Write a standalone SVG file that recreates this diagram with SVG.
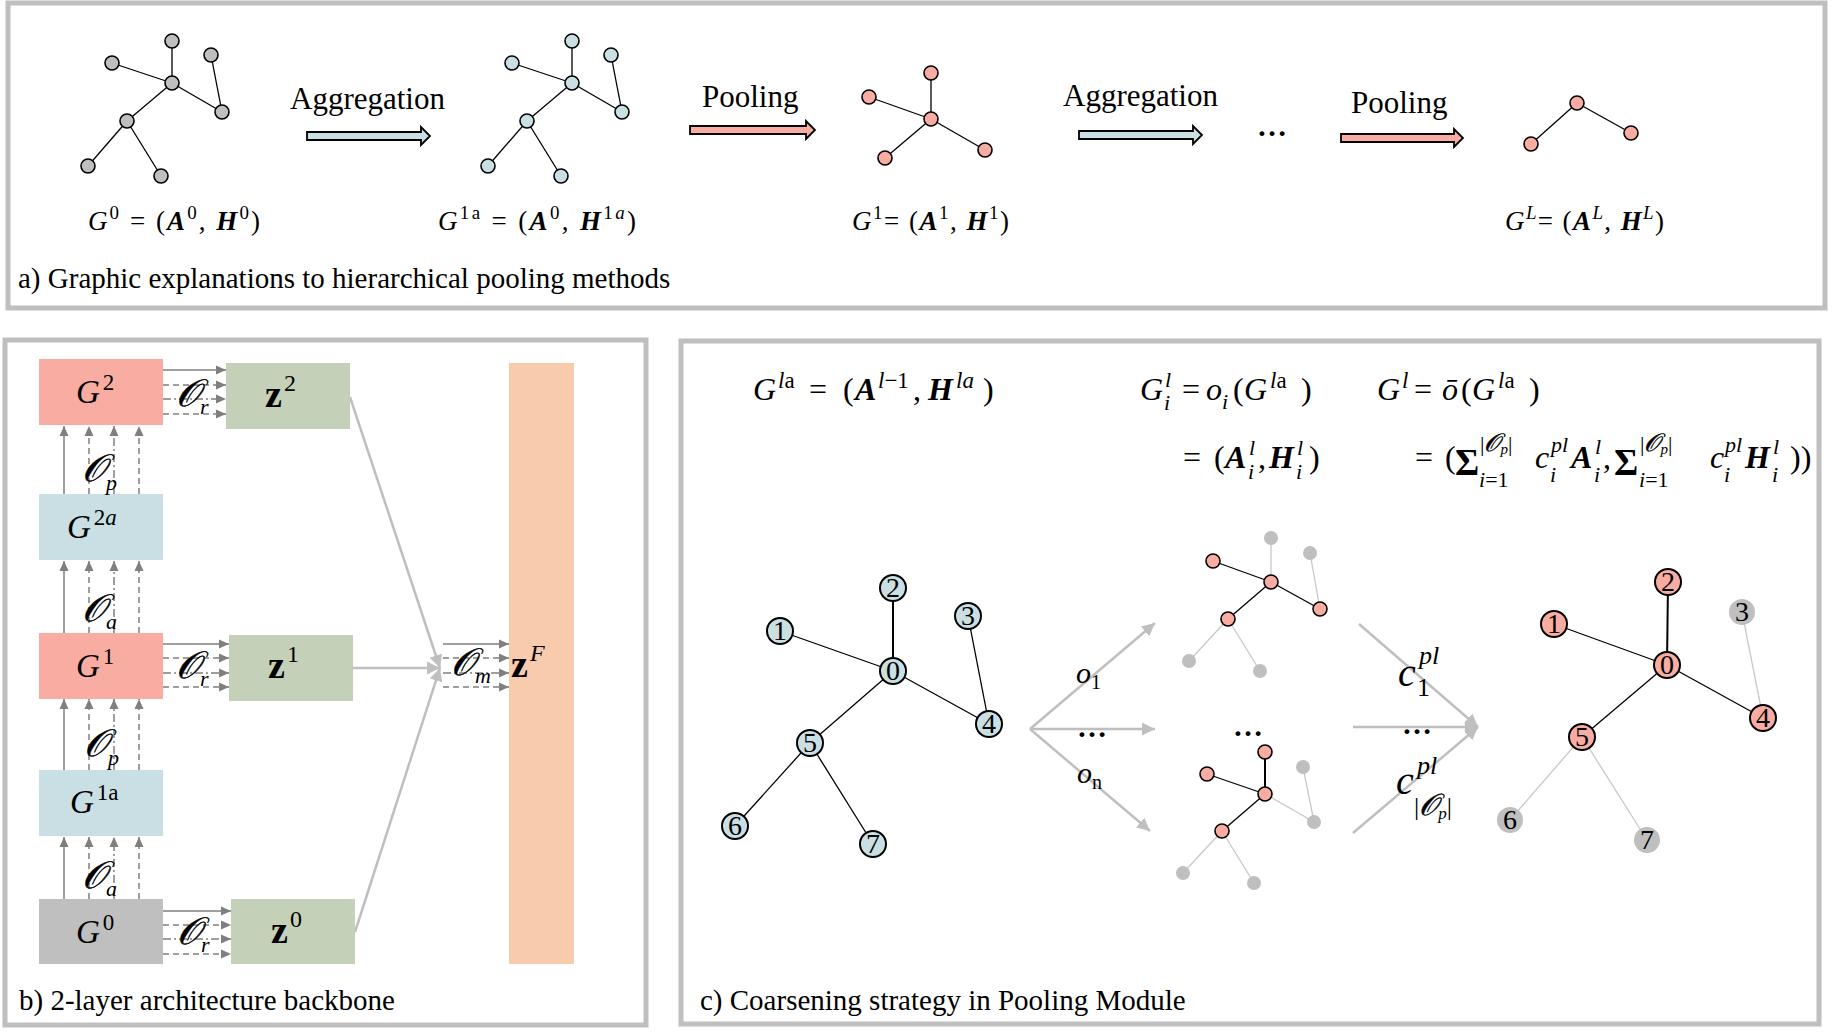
<svg xmlns="http://www.w3.org/2000/svg" width="1846" height="1036" viewBox="0 0 1846 1036">
<defs>
<marker id="ah" viewBox="0 0 10 10" refX="10" refY="5" markerWidth="10" markerHeight="10" markerUnits="userSpaceOnUse" orient="auto"><path d="M0,0.5 L10,5 L0,9.5 z" fill="#7f7f7f"/></marker>
<marker id="ag" viewBox="0 0 12 12" refX="12" refY="6" markerWidth="13" markerHeight="13" markerUnits="userSpaceOnUse" orient="auto"><path d="M0,0 L12,6 L0,12 z" fill="#bfbfbf"/></marker>
<style>
.pb{fill:none;stroke:#bfbfbf;stroke-width:5}
.t{font-family:"Liberation Serif",serif}
.m{font-family:"Liberation Serif",serif;font-style:italic}
.bi{font-weight:bold;font-style:italic}
.b{font-weight:bold;font-style:normal}
.up{font-style:normal}
.so{stroke:#000;stroke-width:0.5}
.e{stroke:#000;stroke-width:1.3}
.e2{stroke:#000;stroke-width:2}
.eg{stroke:#c8c8c8;stroke-width:1.3}
.ng{fill:#bfbfbf;stroke:#000;stroke-width:1.6}
.nb{fill:#c9dfe3;stroke:#000;stroke-width:1.6}
.np{fill:#f8aca2;stroke:#000;stroke-width:1.6}
.nx{fill:#bfbfbf;stroke:none}
.nbb{fill:#c9dfe3;stroke:#000;stroke-width:2}
.npb{fill:#f8aca2;stroke:#000;stroke-width:2}
.num{font-family:"Liberation Serif",serif;font-size:28px;text-anchor:middle}
.ar{stroke:#7f7f7f;stroke-width:1.5;marker-end:url(#ah)}
.da{stroke-dasharray:6 4}
.dd{stroke-dasharray:8 3 2 3}
.cg{stroke:#bfbfbf;stroke-width:2.5;fill:none;marker-end:url(#ag)}
.blk{stroke:#000;stroke-width:1.8}
.lab{font-family:"Liberation Serif",serif;font-size:31px}
.cap{font-family:"Liberation Serif",serif;font-size:29px}
.dots{font-family:"Liberation Serif",serif;font-size:30px;font-weight:bold;text-anchor:middle}
</style>
</defs>

<!-- panels -->
<g id="panel-a"><rect class="pb" x="8" y="3" width="1817" height="305"/></g>
<g id="panel-b"><rect class="pb" x="5" y="340" width="641" height="685"/></g>
<g id="panel-c"><rect class="pb" x="681" y="341" width="1138" height="683"/></g>

<!-- ===== Panel a ===== -->
<g id="graph-G0">
<g class="e"><line x1="172" y1="41" x2="172" y2="83"/><line x1="112" y1="63" x2="172" y2="83"/><line x1="172" y1="83" x2="222" y2="112"/><line x1="211" y1="55" x2="222" y2="112"/><line x1="172" y1="83" x2="127" y2="121"/><line x1="127" y1="121" x2="88" y2="166"/><line x1="127" y1="121" x2="161" y2="176"/></g>
<g id="g0-n0"><circle class="ng" cx="172" cy="41" r="7"/></g>
<g id="g0-n1"><circle class="ng" cx="112" cy="63" r="7"/></g>
<g id="g0-n2"><circle class="ng" cx="211" cy="55" r="7"/></g>
<g id="g0-n3"><circle class="ng" cx="172" cy="83" r="7"/></g>
<g id="g0-n4"><circle class="ng" cx="222" cy="112" r="7"/></g>
<g id="g0-n5"><circle class="ng" cx="127" cy="121" r="7"/></g>
<g id="g0-n6"><circle class="ng" cx="88" cy="166" r="7"/></g>
<g id="g0-n7"><circle class="ng" cx="161" cy="176" r="7"/></g>
</g>
<g id="graph-G1a">
<g class="e"><line x1="572" y1="41" x2="572" y2="83"/><line x1="512" y1="63" x2="572" y2="83"/><line x1="572" y1="83" x2="622" y2="112"/><line x1="611" y1="55" x2="622" y2="112"/><line x1="572" y1="83" x2="527" y2="121"/><line x1="527" y1="121" x2="488" y2="166"/><line x1="527" y1="121" x2="561" y2="176"/></g>
<g id="g1a-n0"><circle class="nb" cx="572" cy="41" r="7"/></g>
<g id="g1a-n1"><circle class="nb" cx="512" cy="63" r="7"/></g>
<g id="g1a-n2"><circle class="nb" cx="611" cy="55" r="7"/></g>
<g id="g1a-n3"><circle class="nb" cx="572" cy="83" r="7"/></g>
<g id="g1a-n4"><circle class="nb" cx="622" cy="112" r="7"/></g>
<g id="g1a-n5"><circle class="nb" cx="527" cy="121" r="7"/></g>
<g id="g1a-n6"><circle class="nb" cx="488" cy="166" r="7"/></g>
<g id="g1a-n7"><circle class="nb" cx="561" cy="176" r="7"/></g>
</g>
<g id="graph-G1">
<g class="e"><line x1="931" y1="73" x2="931" y2="119"/><line x1="869" y1="97" x2="931" y2="119"/><line x1="931" y1="119" x2="985" y2="150"/><line x1="931" y1="119" x2="885" y2="158"/></g>
<g id="g1-n0"><circle class="np" cx="931" cy="73" r="7"/></g>
<g id="g1-n1"><circle class="np" cx="869" cy="97" r="7"/></g>
<g id="g1-n2"><circle class="np" cx="931" cy="119" r="7"/></g>
<g id="g1-n3"><circle class="np" cx="985" cy="150" r="7"/></g>
<g id="g1-n4"><circle class="np" cx="885" cy="158" r="7"/></g>
</g>
<g id="graph-GL">
<g class="e"><line x1="1577" y1="103" x2="1531" y2="144"/><line x1="1577" y1="103" x2="1631" y2="133"/></g>
<g id="gl-n0"><circle class="np" cx="1577" cy="103" r="7"/></g>
<g id="gl-n1"><circle class="np" cx="1531" cy="144" r="7"/></g>
<g id="gl-n2"><circle class="np" cx="1631" cy="133" r="7"/></g>
</g>

<g id="block-arrows">
<path class="blk" fill="#c9dfe3" d="M307,132 H421 V127 L430,136 L421,145 V140 H307 Z"/>
<path class="blk" fill="#f8aca2" d="M690,126 H806 V121 L815,130 L806,139 V134 H690 Z"/>
<path class="blk" fill="#c9dfe3" d="M1079,131 H1193 V126 L1202,135 L1193,144 V139 H1079 Z"/>
<path class="blk" fill="#f8aca2" d="M1341,134 H1454 V129 L1463,138 L1454,147 V142 H1341 Z"/>
</g>
<g id="labels-a">
<text class="lab" x="290" y="109">Aggregation</text>
<text class="lab" x="702" y="107">Pooling</text>
<text class="lab" x="1063" y="106">Aggregation</text>
<text class="lab" x="1351" y="113">Pooling</text>
<text class="dots" x="1272" y="136">…</text>
<text class="m" x="88" y="230" font-size="27" textLength="172" lengthAdjust="spacing">G<tspan class="up" font-size="19" dy="-11">0</tspan><tspan class="up" dy="11"> = (</tspan><tspan class="bi">A</tspan><tspan class="up" font-size="19" dy="-11">0</tspan><tspan class="up" dy="11">, </tspan><tspan class="bi">H</tspan><tspan class="up" font-size="19" dy="-11">0</tspan><tspan class="up" dy="11">)</tspan></text>
<text class="m" x="438" y="230" font-size="27" textLength="198" lengthAdjust="spacing">G<tspan class="up" font-size="19" dy="-11">1a</tspan><tspan class="up" dy="11"> = (</tspan><tspan class="bi">A</tspan><tspan class="up" font-size="19" dy="-11">0</tspan><tspan class="up" dy="11">, </tspan><tspan class="bi">H</tspan><tspan class="up" font-size="19" dy="-11">1</tspan><tspan font-size="19">a</tspan><tspan class="up" dy="11">)</tspan></text>
<text class="m" x="852" y="230" font-size="27" textLength="157" lengthAdjust="spacing">G<tspan class="up" font-size="19" dy="-11">1</tspan><tspan class="up" dy="11">= (</tspan><tspan class="bi">A</tspan><tspan class="up" font-size="19" dy="-11">1</tspan><tspan class="up" dy="11">, </tspan><tspan class="bi">H</tspan><tspan class="up" font-size="19" dy="-11">1</tspan><tspan class="up" dy="11">)</tspan></text>
<text class="m" x="1505" y="230" font-size="27" textLength="159" lengthAdjust="spacing">G<tspan font-size="19" dy="-11">L</tspan><tspan class="up" dy="11">= (</tspan><tspan class="bi">A</tspan><tspan font-size="19" dy="-11">L</tspan><tspan class="up" dy="11">, </tspan><tspan class="bi">H</tspan><tspan font-size="19" dy="-11">L</tspan><tspan class="up" dy="11">)</tspan></text>
<text class="cap" x="18" y="288">a) Graphic explanations to hierarchical pooling methods</text>
</g>

<!-- ===== Panel b ===== -->
<g id="connectors-b">
<g class="ar" fill="none">
<line x1="163" y1="370" x2="226" y2="370"/><line class="da" x1="163" y1="385" x2="226" y2="385"/><line class="dd" x1="163" y1="399" x2="226" y2="399"/><line class="da" x1="163" y1="414" x2="226" y2="414"/>
<line x1="163" y1="644" x2="229" y2="644"/><line class="da" x1="163" y1="658" x2="229" y2="658"/><line class="dd" x1="163" y1="673" x2="229" y2="673"/><line class="da" x1="163" y1="687" x2="229" y2="687"/>
<line x1="163" y1="911" x2="231" y2="911"/><line class="da" x1="163" y1="925" x2="231" y2="925"/><line class="dd" x1="163" y1="939" x2="231" y2="939"/><line class="da" x1="163" y1="954" x2="231" y2="954"/>
<line x1="443" y1="644" x2="509" y2="644"/><line class="da" x1="443" y1="658" x2="509" y2="658"/><line class="dd" x1="443" y1="673" x2="509" y2="673"/><line class="da" x1="443" y1="687" x2="509" y2="687"/>
<line x1="64" y1="494" x2="64" y2="426"/><line class="da" x1="89" y1="494" x2="89" y2="426"/><line class="dd" x1="114" y1="494" x2="114" y2="426"/><line class="da" x1="139" y1="494" x2="139" y2="426"/>
<line x1="64" y1="633" x2="64" y2="561"/><line class="da" x1="89" y1="633" x2="89" y2="561"/><line class="dd" x1="114" y1="633" x2="114" y2="561"/><line class="da" x1="139" y1="633" x2="139" y2="561"/>
<line x1="64" y1="770" x2="64" y2="699"/><line class="da" x1="89" y1="770" x2="89" y2="699"/><line class="dd" x1="114" y1="770" x2="114" y2="699"/><line class="da" x1="139" y1="770" x2="139" y2="699"/>
<line x1="64" y1="899" x2="64" y2="837"/><line class="da" x1="89" y1="899" x2="89" y2="837"/><line class="dd" x1="114" y1="899" x2="114" y2="837"/><line class="da" x1="139" y1="899" x2="139" y2="837"/>
</g>
<g class="cg" stroke-width="3">
<line x1="350" y1="397" x2="440" y2="668"/><line x1="353" y1="668" x2="440" y2="668"/><line x1="355" y1="932" x2="440" y2="668"/>
</g>
</g>
<g id="node-G2"><rect x="39" y="359" width="124" height="66" fill="#f8aca2"/><text class="m" x="76" y="403" font-size="33">G<tspan class="up" font-size="23" dy="-13" dx="3">2</tspan></text></g>
<g id="node-G2a"><rect x="39" y="494" width="124" height="66" fill="#c9dfe3"/><text class="m" x="67" y="538" font-size="33">G<tspan class="up" font-size="23" dy="-13" dx="3">2</tspan><tspan font-size="23">a</tspan></text></g>
<g id="node-G1"><rect x="39" y="633" width="124" height="66" fill="#f8aca2"/><text class="m" x="76" y="677" font-size="33">G<tspan class="up" font-size="23" dy="-13" dx="3">1</tspan></text></g>
<g id="node-G1a"><rect x="39" y="770" width="124" height="66" fill="#c9dfe3"/><text class="m" x="70" y="813" font-size="33">G<tspan class="up" font-size="23" dy="-13" dx="3">1a</tspan></text></g>
<g id="node-G0"><rect x="39" y="899" width="124" height="65" fill="#bfbfbf"/><text class="m" x="76" y="943" font-size="33">G<tspan class="up" font-size="23" dy="-13" dx="3">0</tspan></text></g>
<g id="node-z2"><rect x="226" y="363" width="124" height="66" fill="#c5d0b9"/><text class="t" x="265" y="407" font-size="38"><tspan class="b">z</tspan><tspan font-size="24" dy="-16" dx="2">2</tspan></text></g>
<g id="node-z1"><rect x="229" y="635" width="124" height="66" fill="#c5d0b9"/><text class="t" x="268" y="678" font-size="38"><tspan class="b">z</tspan><tspan font-size="24" dy="-16" dx="2">1</tspan></text></g>
<g id="node-z0"><rect x="231" y="899" width="124" height="65" fill="#c5d0b9"/><text class="t" x="271" y="943" font-size="38"><tspan class="b">z</tspan><tspan font-size="24" dy="-16" dx="2">0</tspan></text></g>
<g id="node-zF"><rect x="509" y="363" width="65" height="601" fill="#f8cbad"/><text class="t" x="511" y="677" font-size="38"><tspan class="b">z</tspan><tspan class="m" font-size="24" dy="-16" dx="2">F</tspan></text></g>
<g id="op-labels">
<text class="m" x="176" y="406" font-size="38"><tspan class="so">𝒪</tspan><tspan font-size="22" dy="8">r</tspan></text>
<text class="m" x="176" y="678" font-size="38"><tspan class="so">𝒪</tspan><tspan font-size="22" dy="8">r</tspan></text>
<text class="m" x="177" y="944" font-size="38"><tspan class="so">𝒪</tspan><tspan font-size="22" dy="8">r</tspan></text>
<text class="m" x="82" y="481" font-size="38"><tspan class="so">𝒪</tspan><tspan font-size="22" dy="9">p</tspan></text>
<text class="m" x="82" y="621" font-size="38"><tspan class="so">𝒪</tspan><tspan font-size="22" dy="8">a</tspan></text>
<text class="m" x="84" y="756" font-size="38"><tspan class="so">𝒪</tspan><tspan font-size="22" dy="9">p</tspan></text>
<text class="m" x="82" y="888" font-size="38"><tspan class="so">𝒪</tspan><tspan font-size="22" dy="8">a</tspan></text>
<text class="m" x="451" y="675" font-size="38"><tspan class="so">𝒪</tspan><tspan font-size="22" dy="8">m</tspan></text>
<text class="cap" x="19" y="1010">b) 2-layer architecture backbone</text>
</g>

<!-- ===== Panel c ===== -->
<g id="formulas-c">
<text class="m" font-size="32"><tspan x="753" y="400">G</tspan><tspan x="778" y="388" font-size="23">l</tspan><tspan class="up" font-size="23">a</tspan><tspan class="up" x="809" y="400">=</tspan><tspan class="up" x="843" y="400">(</tspan><tspan class="bi" x="855" y="400">A</tspan><tspan x="878" y="388" font-size="23">l</tspan><tspan class="up" font-size="23">−1</tspan><tspan class="up" x="913" y="400">,</tspan><tspan class="bi" x="928" y="400">H</tspan><tspan x="956" y="388" font-size="23">la</tspan><tspan class="up" x="983" y="400">)</tspan></text>
<text class="m" font-size="32"><tspan x="1140" y="400">G</tspan><tspan x="1165" y="387" font-size="22">l</tspan><tspan x="1164" y="410" font-size="22">i</tspan><tspan class="up" x="1182" y="400">=</tspan><tspan x="1206" y="400">o</tspan><tspan x="1222" y="409" font-size="22">i</tspan><tspan class="up" x="1233" y="400">(</tspan><tspan x="1244" y="400">G</tspan><tspan x="1270" y="388" font-size="23">l</tspan><tspan class="up" font-size="23">a</tspan><tspan class="up" x="1301" y="400">)</tspan></text>
<text class="m" font-size="32"><tspan x="1377" y="400">G</tspan><tspan x="1402" y="388" font-size="23">l</tspan><tspan class="up" x="1414" y="400">=</tspan><tspan x="1442" y="400">ō</tspan><tspan class="up" x="1461" y="400">(</tspan><tspan x="1472" y="400">G</tspan><tspan x="1498" y="388" font-size="23">l</tspan><tspan class="up" font-size="23">a</tspan><tspan class="up" x="1529" y="400">)</tspan></text>
<text class="m" font-size="32"><tspan class="up" x="1183" y="468">=</tspan><tspan class="up" x="1214" y="468">(</tspan><tspan class="bi" x="1225" y="468">A</tspan><tspan x="1249" y="455" font-size="22">l</tspan><tspan x="1248" y="479" font-size="22">i</tspan><tspan class="up" x="1258" y="468">,</tspan><tspan class="bi" x="1269" y="468">H</tspan><tspan x="1297" y="455" font-size="22">l</tspan><tspan x="1296" y="479" font-size="22">i</tspan><tspan class="up" x="1309" y="468">)</tspan></text>
<text class="m" font-size="32"><tspan class="up" x="1415" y="468">=</tspan><tspan class="up" x="1445" y="468">(</tspan><tspan class="b" x="1455" y="475" font-size="37">Σ</tspan><tspan class="up" x="1480" y="451" font-size="22">|</tspan><tspan class="so" font-size="25" stroke-width="0.3">𝒪</tspan><tspan font-size="15" dy="3">p</tspan><tspan class="up" font-size="22" dy="-3">|</tspan><tspan x="1479" y="487" font-size="22">i</tspan><tspan class="up" font-size="22">=1</tspan><tspan x="1535" y="468">c</tspan><tspan x="1551" y="452" font-size="22">pl</tspan><tspan x="1550" y="482" font-size="22">i</tspan><tspan class="bi" x="1571" y="468">A</tspan><tspan x="1595" y="454" font-size="22">l</tspan><tspan x="1594" y="482" font-size="22">i</tspan><tspan class="up" x="1603" y="468">,</tspan><tspan class="b" x="1614" y="475" font-size="37">Σ</tspan><tspan class="up" x="1640" y="451" font-size="22">|</tspan><tspan class="so" font-size="25" stroke-width="0.3">𝒪</tspan><tspan font-size="15" dy="3">p</tspan><tspan class="up" font-size="22" dy="-3">|</tspan><tspan x="1639" y="487" font-size="22">i</tspan><tspan class="up" font-size="22">=1</tspan><tspan x="1710" y="468">c</tspan><tspan x="1725" y="452" font-size="22">pl</tspan><tspan x="1724" y="482" font-size="22">i</tspan><tspan class="bi" x="1745" y="468">H</tspan><tspan x="1773" y="454" font-size="22">l</tspan><tspan x="1772" y="482" font-size="22">i</tspan><tspan class="up" x="1790" y="468">))</tspan></text>
</g>

<g id="connectors-c">
<g class="e"><line class="e2" x1="893" y1="588" x2="893" y2="671"/><line x1="780" y1="631" x2="893" y2="671"/><line x1="893" y1="671" x2="989" y2="724"/><line x1="893" y1="671" x2="810" y2="743"/><line x1="968" y1="616" x2="989" y2="724"/><line x1="810" y1="743" x2="735" y2="826"/><line x1="810" y1="743" x2="873" y2="844"/></g>
<g class="cg"><line x1="1030" y1="729" x2="1155" y2="623"/><line x1="1030" y1="729" x2="1155" y2="729"/><line x1="1030" y1="729" x2="1150" y2="831"/>
<line x1="1359" y1="624" x2="1478" y2="727"/><line x1="1353" y1="727" x2="1478" y2="727"/><line x1="1353" y1="833" x2="1478" y2="727"/></g>
<g class="eg"><line x1="1271" y1="538" x2="1271" y2="582"/><line x1="1310" y1="553" x2="1320" y2="609"/><line x1="1228" y1="619" x2="1189" y2="661"/><line x1="1228" y1="619" x2="1260" y2="671"/></g>
<g class="e"><line x1="1213" y1="561" x2="1271" y2="582"/><line x1="1271" y1="582" x2="1320" y2="609"/><line x1="1271" y1="582" x2="1228" y2="619"/></g>
<g class="eg"><line x1="1303" y1="767" x2="1314" y2="822"/><line x1="1265" y1="794" x2="1314" y2="822"/><line x1="1222" y1="831" x2="1183" y2="873"/><line x1="1222" y1="831" x2="1254" y2="883"/></g>
<g class="e"><line class="e2" x1="1265" y1="752" x2="1265" y2="794"/><line x1="1207" y1="774" x2="1265" y2="794"/><line x1="1265" y1="794" x2="1222" y2="831"/></g>
<g class="e"><line class="e2" x1="1668" y1="582" x2="1667" y2="665"/><line x1="1554" y1="624" x2="1667" y2="665"/><line x1="1667" y1="665" x2="1763" y2="718"/><line x1="1667" y1="665" x2="1582" y2="737"/></g>
<g class="eg"><line x1="1742" y1="612" x2="1763" y2="718"/><line x1="1582" y1="737" x2="1510" y2="820"/><line x1="1582" y1="737" x2="1647" y2="840"/></g>
</g>

<g id="graph-c-left">
<g id="c0"><circle class="nbb" cx="893" cy="671" r="13"/><text class="num" x="893" y="680">0</text></g>
<g id="c1"><circle class="nbb" cx="780" cy="631" r="13"/><text class="num" x="780" y="640">1</text></g>
<g id="c2"><circle class="nbb" cx="893" cy="588" r="13"/><text class="num" x="893" y="597">2</text></g>
<g id="c3"><circle class="nbb" cx="968" cy="616" r="13"/><text class="num" x="968" y="625">3</text></g>
<g id="c4"><circle class="nbb" cx="989" cy="724" r="13"/><text class="num" x="989" y="733">4</text></g>
<g id="c5"><circle class="nbb" cx="810" cy="743" r="13"/><text class="num" x="810" y="752">5</text></g>
<g id="c6"><circle class="nbb" cx="735" cy="826" r="13"/><text class="num" x="735" y="835">6</text></g>
<g id="c7"><circle class="nbb" cx="873" cy="844" r="13"/><text class="num" x="873" y="853">7</text></g>
</g>
<g id="graph-c-upper">
<g id="u0"><circle class="nx" cx="1271" cy="538" r="7"/></g>
<g id="u1"><circle class="nx" cx="1310" cy="553" r="7"/></g>
<g id="u2"><circle class="np" cx="1213" cy="561" r="7"/></g>
<g id="u3"><circle class="np" cx="1271" cy="582" r="7"/></g>
<g id="u4"><circle class="np" cx="1320" cy="609" r="7"/></g>
<g id="u5"><circle class="np" cx="1228" cy="619" r="7"/></g>
<g id="u6"><circle class="nx" cx="1189" cy="661" r="7"/></g>
<g id="u7"><circle class="nx" cx="1260" cy="671" r="7"/></g>
</g>
<g id="graph-c-lower">
<g id="l0"><circle class="np" cx="1265" cy="752" r="7"/></g>
<g id="l1"><circle class="nx" cx="1303" cy="767" r="7"/></g>
<g id="l2"><circle class="np" cx="1207" cy="774" r="7"/></g>
<g id="l3"><circle class="np" cx="1265" cy="794" r="7"/></g>
<g id="l4"><circle class="nx" cx="1314" cy="822" r="7"/></g>
<g id="l5"><circle class="np" cx="1222" cy="831" r="7"/></g>
<g id="l6"><circle class="nx" cx="1183" cy="873" r="7"/></g>
<g id="l7"><circle class="nx" cx="1254" cy="883" r="7"/></g>
</g>
<g id="graph-c-right">
<g id="r0"><circle class="npb" cx="1667" cy="665" r="13"/><text class="num" x="1667" y="674">0</text></g>
<g id="r1"><circle class="npb" cx="1554" cy="624" r="13"/><text class="num" x="1554" y="633">1</text></g>
<g id="r2"><circle class="npb" cx="1668" cy="582" r="13"/><text class="num" x="1668" y="591">2</text></g>
<g id="r3"><circle class="nx" cx="1742" cy="612" r="13"/><text class="num" x="1742" y="621">3</text></g>
<g id="r4"><circle class="npb" cx="1763" cy="718" r="13"/><text class="num" x="1763" y="727">4</text></g>
<g id="r5"><circle class="npb" cx="1582" cy="737" r="13"/><text class="num" x="1582" y="746">5</text></g>
<g id="r6"><circle class="nx" cx="1510" cy="820" r="13"/><text class="num" x="1510" y="829">6</text></g>
<g id="r7"><circle class="nx" cx="1647" cy="840" r="13"/><text class="num" x="1647" y="849">7</text></g>
</g>
<g id="labels-c">
<text class="m" x="1076" y="683" font-size="30">o<tspan class="up" font-size="20" dy="6">1</tspan></text>
<text class="m" x="1077" y="783" font-size="30">o<tspan class="up" font-size="20" dy="6">n</tspan></text>
<text class="dots" x="1092" y="737">…</text>
<text class="dots" x="1248" y="736">…</text>
<text class="dots" x="1417" y="734">…</text>
<text class="m" font-size="40"><tspan x="1398" y="686">c</tspan><tspan x="1419" y="664" font-size="26">pl</tspan><tspan class="up" x="1417" y="696" font-size="26">1</tspan></text>
<text class="m" font-size="40"><tspan x="1396" y="794">c</tspan><tspan x="1417" y="774" font-size="26">pl</tspan><tspan class="up" x="1414" y="815" font-size="26">|</tspan><tspan class="so" font-size="30" stroke-width="0.3">𝒪</tspan><tspan font-size="17" dy="4">p</tspan><tspan class="up" font-size="26" dy="-4">|</tspan></text>
<text class="cap" x="700" y="1010">c) Coarsening strategy in Pooling Module</text>
</g>
</svg>
